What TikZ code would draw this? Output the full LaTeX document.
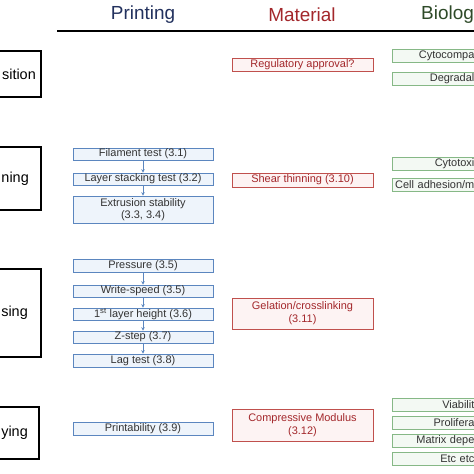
\documentclass[tikz,border=0pt]{standalone}
\usepackage{fontspec}
\setmainfont{Liberation Sans}
\usetikzlibrary{arrows.meta}
\definecolor{printblue}{HTML}{5B86BF}
\definecolor{printfill}{HTML}{EEF4FB}
\definecolor{printhead}{HTML}{22315E}
\definecolor{matred}{HTML}{C0504D}
\definecolor{matfill}{HTML}{FDF3F3}
\definecolor{mattext}{HTML}{A3272B}
\definecolor{biogreen}{HTML}{86B886}
\definecolor{biofill}{HTML}{F3F9F3}
\definecolor{biohead}{HTML}{2E4A28}
\definecolor{boxtext}{HTML}{333333}

\begin{document}
\begin{tikzpicture}[x=1bp,y=-1bp,
  head/.style={font=\fontsize{19}{21}\selectfont, inner sep=0pt},
  stagebox/.style={draw=black, line width=1.8bp, fill=white, anchor=east, minimum width=120bp, inner sep=0pt},
  stagelabel/.style={anchor=east, inner sep=0pt, font=\fontsize{14.5}{17}\selectfont},
  printbox/.style={draw=printblue, line width=0.7bp, fill=printfill, text=boxtext, minimum width=140bp,
    inner sep=0pt, align=center, font=\fontsize{11}{12.5}\selectfont},
  matbox/.style={draw=matred, line width=0.7bp, fill=matfill, text=mattext, minimum width=141bp,
    inner sep=0pt, align=center, font=\fontsize{11}{13}\selectfont},
  biobox/.style={draw=biogreen, line width=0.7bp, fill=biofill, text=boxtext, anchor=west, minimum width=84bp,
    text width=80bp, align=right, inner xsep=2bp, inner ysep=0pt, minimum height=13bp, font=\fontsize{11}{12.5}\selectfont},
  steparrow/.style={-{Stealth[length=3.5bp,width=3.5bp]}, printblue, line width=0.7bp}]
\useasboundingbox (0,0) rectangle (474,474);
\clip (0,0) rectangle (474,474);
\fill[white] (0,0) rectangle (474,474);

% column heads
\node[head, text=printhead] (hprint) at (143,15) {Printing};
\node[head, text=mattext] (hmat) at (302,15) {Material};
\node[head, text=biohead, anchor=west] (hbio) at (421,15) {Biolog};
\draw[black, line width=1.8bp] (57,31) -- (474,31);

% stages
\node[stagebox, minimum height=46bp] (stage1) at (42,74) {};
\node[stagebox, minimum height=63bp] (stage2) at (42,178.5) {};
\node[stagebox, minimum height=88bp] (stage3) at (42,313) {};
\node[stagebox, minimum height=52bp] (stage4) at (40,433) {};
\node[stagelabel] (stage1txt) at ([xshift=-6bp]stage1.east) {sition};
\node[stagelabel] (stage2txt) at ([xshift=-13bp]stage2.east) {ning};
\node[stagelabel] (stage3txt) at ([xshift=-14bp]stage3.east) {sing};
\node[stagelabel] (stage4txt) at ([xshift=-12bp]stage4.east) {ying};

% printing
\node[printbox, minimum height=12bp] (filament) at (143,154) {Filament test (3.1)};
\node[printbox, minimum height=12bp] (stacking) at (143,179) {Layer stacking test (3.2)};
\node[printbox, minimum height=27bp] (extrusion) at (143,209.5) {Extrusion stability\\(3.3, 3.4)};
\node[printbox, minimum height=13bp] (pressure) at (143,265.5) {Pressure (3.5)};
\node[printbox, minimum height=12bp] (speed) at (143,291) {Write-speed (3.5)};
\node[printbox, minimum height=12bp] (layer) at (143,314) {1\textsuperscript{st} layer height (3.6)};
\node[printbox, minimum height=12bp] (zstep) at (143,337) {Z-step (3.7)};
\node[printbox, minimum height=13bp] (lag) at (143,360.5) {Lag test (3.8)};
\node[printbox, minimum height=13bp] (printability) at (143,428.5) {Printability (3.9)};
\draw[steparrow] (filament) -- (stacking);
\draw[steparrow] (stacking) -- (extrusion);
\draw[steparrow] (pressure) -- (speed);
\draw[steparrow] (speed) -- (layer);
\draw[steparrow] (layer) -- (zstep);
\draw[steparrow] (zstep) -- (lag);

% material
\node[matbox, minimum height=13bp] (regulatory) at (302.5,64.5) {Regulatory approval?};
\node[matbox, minimum height=14bp] (shear) at (302.5,180) {Shear thinning (3.10)};
\node[matbox, minimum height=31bp] (gelation) at (302.5,313.5) {Gelation/crosslinking\\(3.11)};
\node[matbox, minimum height=32bp] (modulus) at (302.5,425) {Compressive Modulus\\(3.12)};

% biology
\node[biobox] (cytocomp) at (392,55.5) {Cytocompa};
\node[biobox] (degrad) at (392,78.5) {Degradal};
\node[biobox] (cytotox) at (392,163.5) {Cytotoxi};
\node[biobox] (adhesion) at (392,184.5) {Cell adhesion/m};
\node[biobox] (viability) at (392,404.5) {Viabilit};
\node[biobox] (prolif) at (392,423) {Prolifera};
\node[biobox] (matrix) at (392,440.5) {Matrix depe};
\node[biobox] (etc) at (392,458.5) {Etc etc};
\end{tikzpicture}
\end{document}
